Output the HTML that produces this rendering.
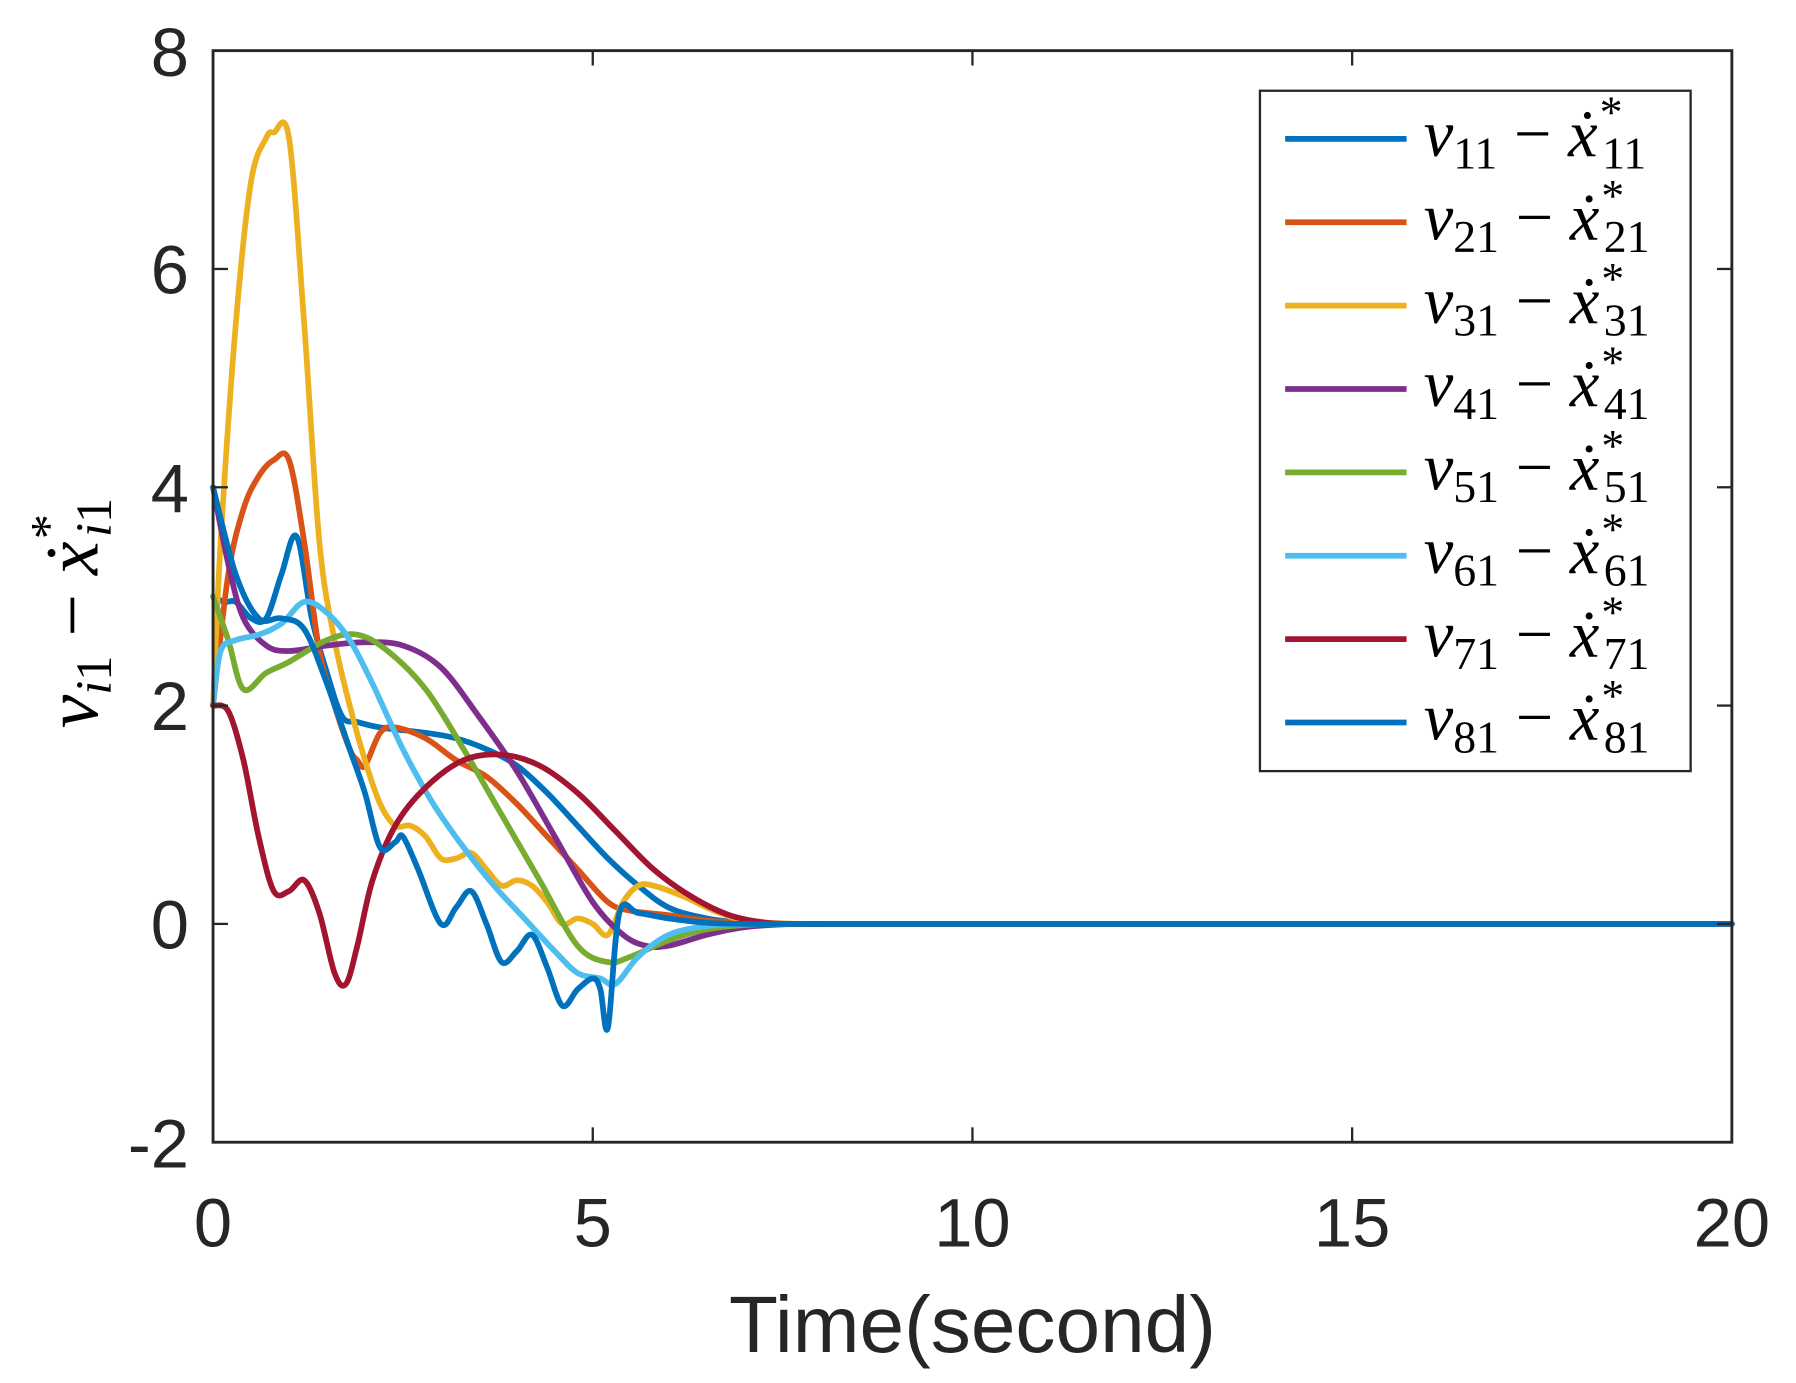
<!DOCTYPE html>
<html><head><meta charset="utf-8"><style>
html,body{margin:0;padding:0;background:#fff;}
svg{display:block;}
.tk{font-family:"Liberation Sans",sans-serif;font-size:60px;fill:#262626;}
.lg{font-family:"Liberation Serif",serif;font-style:italic;fill:#000;}
</style></head><body>
<svg id="s" width="1796" height="1383" viewBox="0 0 1568 1207" xmlns="http://www.w3.org/2000/svg">
<rect x="0" y="0" width="1568" height="1207" fill="#fff"/>
<g id="curves" fill="none" stroke-width="5" stroke-linejoin="round" stroke-linecap="round"></g>
<rect x="186" y="44" width="1326" height="953" fill="none" stroke="#262626" stroke-width="2.5"/>
<g stroke="#262626" stroke-width="2">
<line x1="517.5" y1="997" x2="517.5" y2="984"/><line x1="849" y1="997" x2="849" y2="984"/><line x1="1180.5" y1="997" x2="1180.5" y2="984"/>
<line x1="517.5" y1="44" x2="517.5" y2="57"/><line x1="849" y1="44" x2="849" y2="57"/><line x1="1180.5" y1="44" x2="1180.5" y2="57"/>
<line x1="186" y1="234.6" x2="199" y2="234.6"/><line x1="186" y1="425.2" x2="199" y2="425.2"/><line x1="186" y1="615.8" x2="199" y2="615.8"/><line x1="186" y1="806.4" x2="199" y2="806.4"/>
<line x1="1512" y1="234.6" x2="1499" y2="234.6"/><line x1="1512" y1="425.2" x2="1499" y2="425.2"/><line x1="1512" y1="615.8" x2="1499" y2="615.8"/><line x1="1512" y1="806.4" x2="1499" y2="806.4"/>
</g>
<g class="tk" text-anchor="end">
<text x="165" y="66">8</text><text x="165" y="256">6</text><text x="165" y="447">4</text><text x="165" y="637">2</text><text x="165" y="828">0</text><text x="165" y="1019">-2</text>
</g>
<g class="tk" text-anchor="middle">
<text x="186" y="1088">0</text><text x="517.5" y="1088">5</text><text x="849" y="1088">10</text><text x="1180.5" y="1088">15</text><text x="1512" y="1088">20</text>
</g>
<text x="849" y="1180" text-anchor="middle" font-family="Liberation Sans,sans-serif" font-size="70" fill="#262626">Time(second)</text>
<text transform="translate(85,535) rotate(-90)" text-anchor="middle" class="lg" font-size="66" fill="#262626">v<tspan font-size="44" dy="12">i</tspan><tspan font-size="44" font-style="normal">1</tspan><tspan dy="-12" font-style="normal"> − </tspan>ẋ<tspan font-size="44" dy="-28">*</tspan><tspan font-size="44" dx="-18" dy="40">i</tspan><tspan font-size="44" font-style="normal">1</tspan></text>
<rect x="1100" y="79" width="376" height="594" fill="#fff" stroke="#262626" stroke-width="2"/>
<g id="leg"></g>
</svg>
<script>
var X=function(t){return 186+t*66.3;},Y=function(v){return 806.4-v*95.3;};
var S=[
["#0072BD",[[0,3.0],[0.15,2.95],[0.3,2.95],[0.5,2.8],[0.7,2.8],[0.9,3.2],[1.1,3.55],[1.3,2.8],[1.5,2.3],[1.7,1.9],[1.9,1.85],[2.2,1.8],[2.8,1.75],[3.2,1.7],[3.6,1.6],[4,1.45],[4.4,1.2],[4.8,0.9],[5.2,0.6],[5.6,0.35],[6,0.15],[6.5,0.05],[7,0.01],[7.5,0],[20,0]]],
["#D95319",[[0,2],[0.2,3.2],[0.4,3.8],[0.6,4.1],[0.8,4.25],[1.0,4.25],[1.2,3.5],[1.4,2.5],[1.6,2.0],[1.8,1.6],[1.9,1.5],[2.0,1.45],[2.2,1.75],[2.4,1.8],[2.8,1.7],[3.2,1.5],[3.6,1.35],[4.0,1.1],[4.4,0.8],[4.8,0.5],[5.2,0.2],[5.5,0.12],[6,0.08],[6.5,0.03],[7,0.01],[7.5,0],[20,0]]],
["#EDB120",[[0,2],[0.1,3.5],[0.3,5.5],[0.5,6.8],[0.7,7.2],[0.8,7.25],[1.0,7.2],[1.2,5.5],[1.4,3.5],[1.6,2.6],[1.8,2.0],[2.0,1.5],[2.2,1.1],[2.4,0.9],[2.6,0.9],[2.8,0.8],[3.0,0.6],[3.2,0.6],[3.4,0.65],[3.6,0.5],[3.8,0.35],[4.0,0.4],[4.2,0.35],[4.4,0.2],[4.6,0.0],[4.8,0.05],[5.0,0.0],[5.2,-0.1],[5.4,0.2],[5.6,0.35],[5.8,0.35],[6.2,0.25],[6.6,0.12],[7,0.03],[7.5,0.005],[8,0],[20,0]]],
["#7E2F8E",[[0,4],[0.2,3.3],[0.4,2.8],[0.7,2.55],[1.0,2.5],[1.5,2.55],[2,2.58],[2.5,2.55],[3,2.35],[3.5,1.9],[4,1.4],[4.5,0.8],[5,0.2],[5.4,-0.1],[5.7,-0.2],[6,-0.2],[6.5,-0.1],[7,-0.03],[7.5,-0.005],[8,0],[20,0]]],
["#77AC30",[[0,3],[0.2,2.6],[0.4,2.15],[0.7,2.3],[1.0,2.4],[1.5,2.6],[1.9,2.65],[2.3,2.5],[2.8,2.15],[3.3,1.6],[3.8,1.0],[4.3,0.4],[4.8,-0.2],[5.2,-0.35],[5.5,-0.3],[6,-0.15],[6.5,-0.05],[7,-0.01],[7.5,0],[20,0]]],
["#4DBEEE",[[0,2],[0.1,2.5],[0.3,2.6],[0.6,2.65],[0.9,2.75],[1.2,2.95],[1.5,2.85],[1.8,2.6],[2.1,2.2],[2.5,1.6],[2.9,1.1],[3.3,0.7],[3.7,0.35],[4.1,0.05],[4.5,-0.25],[4.8,-0.45],[5.1,-0.5],[5.3,-0.55],[5.6,-0.3],[6,-0.1],[6.5,-0.02],[7,0],[7.5,0],[20,0]]],
["#A2142F",[[0,2],[0.2,1.95],[0.4,1.5],[0.6,0.8],[0.8,0.3],[1.0,0.3],[1.2,0.4],[1.4,0.1],[1.6,-0.45],[1.75,-0.55],[1.9,-0.2],[2.1,0.4],[2.4,0.9],[2.8,1.25],[3.3,1.5],[3.8,1.55],[4.3,1.45],[4.8,1.2],[5.3,0.85],[5.8,0.5],[6.3,0.25],[6.8,0.08],[7.3,0.01],[7.8,0],[8.3,0],[20,0]]],
["#0072BD",[[0,4],[0.3,3.2],[0.6,2.8],[0.9,2.8],[1.2,2.7],[1.5,2.2],[1.8,1.6],[2.0,1.2],[2.2,0.7],[2.4,0.75],[2.5,0.8],[2.7,0.5],[3.0,0.0],[3.2,0.15],[3.4,0.3],[3.6,0.0],[3.8,-0.35],[4.0,-0.25],[4.2,-0.1],[4.4,-0.4],[4.6,-0.75],[4.8,-0.6],[5.0,-0.5],[5.1,-0.6],[5.2,-0.95],[5.35,0.1],[5.6,0.1],[6,0.05],[6.5,0.01],[7,0],[7.5,0],[20,0]]]
];
var ns="http://www.w3.org/2000/svg",g=document.getElementById("curves"),L=document.getElementById("leg");
S.forEach(function(s,i){
 var p=s[1].map(function(q){return [X(q[0]),Y(q[1])];});
 var d="M"+p[0][0]+","+p[0][1];
 for(var k=0;k<p.length-1;k++){
  var a=p[k>0?k-1:k],b=p[k],c=p[k+1],e=p[k+2<p.length?k+2:k+1];
  var c1x=b[0]+(c[0]-a[0])/6,c1y=b[1]+(c[1]-a[1])/6,c2x=c[0]-(e[0]-b[0])/6,c2y=c[1]-(e[1]-b[1])/6;
  if(c[0]-b[0]>100){d+=" L"+c[0]+","+c[1];continue;}
  if(e[0]-c[0]>100){c2x=c[0]-(c[0]-b[0])/3;c2y=c[1];}
  if(b[0]-a[0]>100){c1x=b[0]+(c[0]-b[0])/3;c1y=b[1];}
  d+=" C"+c1x+","+c1y+" "+c2x+","+c2y+" "+c[0]+","+c[1];
 }
 var el=document.createElementNS(ns,"path");el.setAttribute("d",d);el.setAttribute("stroke",s[0]);g.appendChild(el);
 var y=121+i*72.8;
 var ln=document.createElementNS(ns,"line");ln.setAttribute("x1",1122);ln.setAttribute("x2",1228);ln.setAttribute("y1",y);ln.setAttribute("y2",y);ln.setAttribute("stroke",s[0]);ln.setAttribute("stroke-width",5);L.appendChild(ln);
 var t=document.createElementNS(ns,"text");t.setAttribute("x",1243);t.setAttribute("y",y+15);t.setAttribute("class","lg");t.setAttribute("font-size","58");
 t.innerHTML='v<tspan font-size="40" font-style="normal" dy="11">'+(i+1)+'1</tspan><tspan font-style="normal" dy="-11"> − </tspan>ẋ<tspan font-size="40" dy="-25">*</tspan><tspan font-size="40" font-style="normal" dx="-16" dy="36">'+(i+1)+'1</tspan>';
 L.appendChild(t);
});
</script>
</body></html>
